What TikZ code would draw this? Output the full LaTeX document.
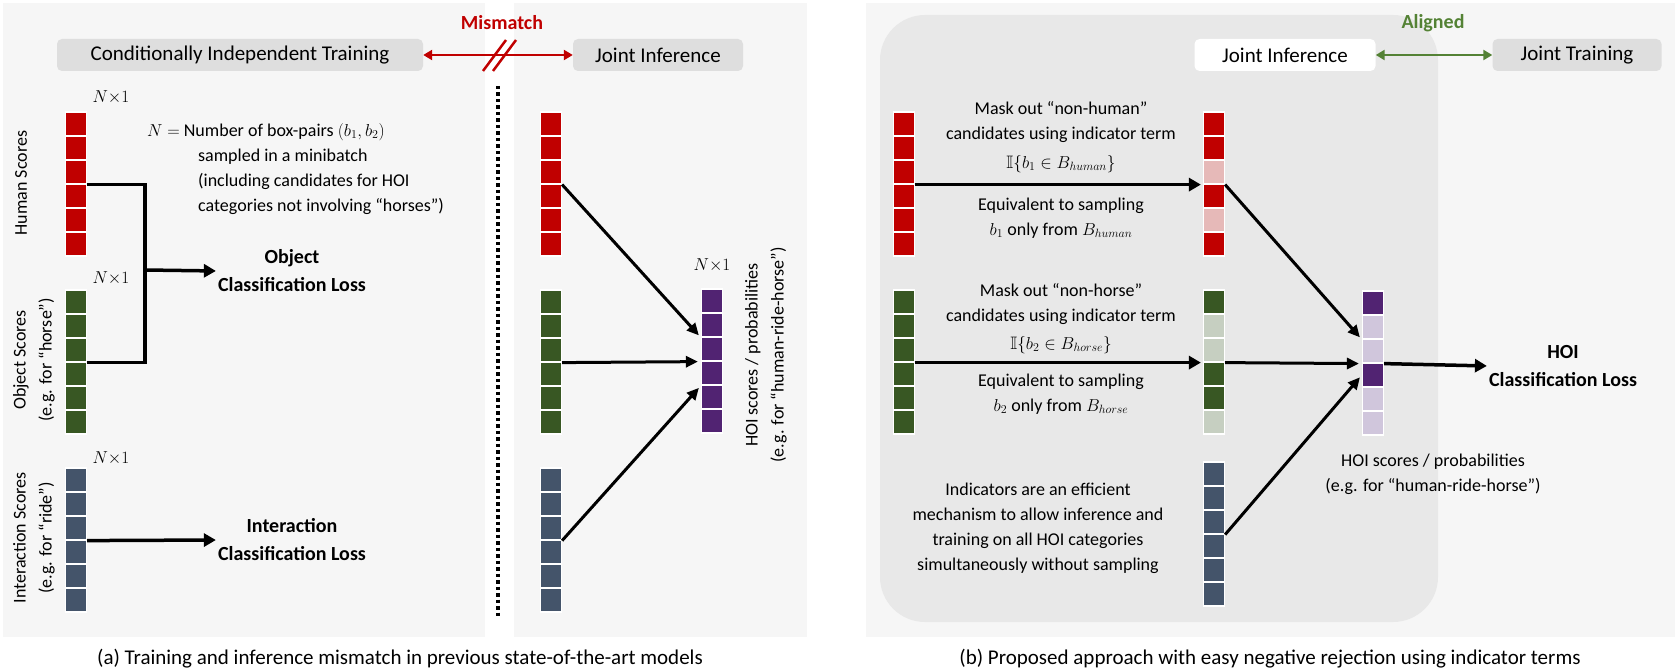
\documentclass[tikz,border=0pt]{standalone}
\usepackage{fontspec}
\usepackage{amssymb}
\setmainfont{Carlito}
\usetikzlibrary{arrows.meta}
\definecolor{cred}{HTML}{C00000}
\definecolor{cpink}{HTML}{E6B9B8}
\definecolor{cgreen}{HTML}{385723}
\definecolor{clgreen}{HTML}{C6CFC1}
\definecolor{cblue}{HTML}{44546A}
\definecolor{cpurple}{HTML}{512372}
\definecolor{clpurple}{HTML}{D0C6DC}
\definecolor{bgA}{HTML}{F6F6F6}
\definecolor{bgB}{HTML}{E8E8E8}
\definecolor{boxg}{HTML}{DEDEDE}
\definecolor{algreen}{HTML}{548235}
\newcommand\sbar[4]{\foreach \c [count=\i] in {#4} {\node[cell,fill=\c] (#1\i) at (#2+10,#3+12+24*\i-24) {};}}
\begin{document}
\begin{tikzpicture}[x=1pt,y=-1pt,
  cell/.style={draw=white,line width=1.2pt,minimum width=21pt,minimum height=24pt,inner sep=0pt},
  hdr/.style={rounded corners=5pt,fill=boxg,minimum height=32pt,inner sep=0pt,font=\fontsize{21}{23}\selectfont},
  txt/.style={font=\fontsize{18}{25}\selectfont,align=center,inner sep=0pt},
  btxt/.style={font=\fontsize{20}{28}\selectfont\bfseries,align=center,inner sep=0pt},
  vtxt/.style={font=\fontsize{18}{26}\selectfont,align=center,rotate=90,inner sep=0pt},
  arr/.style={line width=3.5pt,shorten >=2pt,-{Triangle[length=12pt,width=13pt]}},
  ln/.style={line width=3pt,shorten >=3pt,-{Triangle[length=12pt,width=11pt]}}]
\useasboundingbox (0,0) rectangle (1679,671);
\fill[white] (0,0) rectangle (1679,671);
% backgrounds
\fill[bgA] (3,3) rectangle (485,637);
\fill[bgA] (514,3) rectangle (807,637);
\fill[bgA] (866,3) rectangle (1675,637);
\fill[bgB,rounded corners=45pt] (880,15) rectangle (1438,622);
\draw[line width=3.5pt,dash pattern=on 3.5pt off 3pt] (498,86) -- (498,617);
% headers
\node[hdr,minimum width=366pt] (cit) at (240,55) {Conditionally Independent Training};
\node[hdr,minimum width=170pt] (ji1) at (658,55) {Joint Inference};
\node[hdr,fill=white,minimum width=181pt] (ji2) at (1285,55) {Joint Inference};
\node[hdr,minimum width=169pt] (jt) at (1577,55) {Joint Training};
\draw[cred,line width=2.5pt,{Triangle[length=9pt,width=10pt]}-{Triangle[length=9pt,width=10pt]}] (cit.east) -- (ji1.west);
\draw[cred,line width=2.5pt] (483,71) -- (506,40) (493,71) -- (516,40);
\node[txt,text=cred,font=\fontsize{20}{22}\selectfont\bfseries] (mm) at (502,23) {Mismatch};
\draw[algreen,line width=2.5pt,{Triangle[length=9pt,width=10pt]}-{Triangle[length=9pt,width=10pt]}] (ji2.east) -- (jt.west);
\node[txt,text=algreen,font=\fontsize{20}{22}\selectfont\bfseries] (al) at (1433,23) {Aligned};
% panel a left
\sbar{hA}{66}{112}{cred,cred,cred,cred,cred,cred}
\sbar{oA}{66}{290}{cgreen,cgreen,cgreen,cgreen,cgreen,cgreen}
\sbar{iA}{66}{468}{cblue,cblue,cblue,cblue,cblue,cblue}
\node[txt] (n1) at (111,97) {$N{\times}1$};
\node[txt] (n2) at (111,278) {$N{\times}1$};
\node[txt] (n3) at (111,458) {$N{\times}1$};
\node[vtxt] (hs) at (21,183) {Human Scores};
\node[vtxt] (os) at (34,360) {Object Scores\\(e.g. for ``horse'')};
\node[vtxt] (is) at (34,538) {Interaction Scores\\(e.g. for ``ride'')};
\node[txt,anchor=west] (note1) at (147,132) {$N=$ Number of box-pairs $(b_1,b_2)$};
\node[txt,anchor=west] (note2) at (198,157) {sampled in a minibatch};
\node[txt,anchor=west] (note3) at (198,181) {(including candidates for HOI};
\node[txt,anchor=west] (note4) at (198,206) {categories not involving ``horses'')};
\node[btxt] (ocl) at (292,271) {Object\\Classification Loss};
\node[btxt] (icl) at (292,540) {Interaction\\Classification Loss};
\coordinate (j1) at (145,270);
\draw[line width=3.5pt] (hA3.south east) -| (j1) |- (oA3.south east);
\draw[arr] (j1) -- (ocl.west);
\draw[arr] (iA3.south east) -- (icl.west);
% panel a middle
\sbar{hM}{541}{112}{cred,cred,cred,cred,cred,cred}
\sbar{oM}{541}{290}{cgreen,cgreen,cgreen,cgreen,cgreen,cgreen}
\sbar{iM}{541}{468}{cblue,cblue,cblue,cblue,cblue,cblue}
\sbar{pM}{702}{289}{cpurple,cpurple,cpurple,cpurple,cpurple,cpurple}
\node[txt] (n4) at (712,265) {$N{\times}1$};
\node[vtxt] (hoiA) at (766,355) {HOI scores / probabilities\\(e.g. for ``human-ride-horse'')};
\draw[ln] (hM3.south east) -- (pM2.south west);
\draw[ln] (oM3.south east) -- (pM3.south west);
\draw[ln] (iM3.south east) -- (pM4.south west);
% panel b
\sbar{hB}{894}{112}{cred,cred,cred,cred,cred,cred}
\sbar{oB}{894}{290}{cgreen,cgreen,cgreen,cgreen,cgreen,cgreen}
\sbar{hK}{1204}{112}{cred,cred,cpink,cred,cpink,cred}
\sbar{oK}{1204}{290}{cgreen,clgreen,clgreen,cgreen,cgreen,clgreen}
\sbar{iK}{1204}{462}{cblue,cblue,cblue,cblue,cblue,cblue}
\sbar{pK}{1363}{291}{cpurple,clpurple,clpurple,cpurple,clpurple,clpurple}
\node[txt] (t1) at (1061,122) {Mask out ``non-human''\\candidates using indicator term};
\node[txt] (t2) at (1061,164) {$\mathbb{I}\{b_1\in B_{human}\}$};
\node[txt] (t3) at (1061,218) {Equivalent to sampling\\$b_1$ only from $B_{human}$};
\node[txt] (t4) at (1061,304) {Mask out ``non-horse''\\candidates using indicator term};
\node[txt] (t5) at (1061,345) {$\mathbb{I}\{b_2\in B_{horse}\}$};
\node[txt] (t6) at (1061,394) {Equivalent to sampling\\$b_2$ only from $B_{horse}$};
\node[txt] (t7) at (1038,528) {Indicators are an efficient\\mechanism to allow inference and\\training on all HOI categories\\simultaneously without sampling};
\draw[arr] (hB3.south east) -- (hK3.south west);
\draw[arr] (oB3.south east) -- (oK3.south west);
\draw[ln] (hK3.south east) -- (pK2.south west);
\draw[ln] (oK3.south east) -- (pK3.south west);
\draw[ln] (iK3.south east) -- (pK4.west);
\node[btxt] (hcl) at (1563,366) {HOI\\Classification Loss};
\draw[arr] (pK3.south east) -- (hcl.west);
\node[txt] (hoiB) at (1433,474) {HOI scores / probabilities\\(e.g. for ``human-ride-horse'')};
% captions
\node[txt,font=\fontsize{21}{23}\selectfont] (ca) at (400,659) {(a) Training and inference mismatch in previous state-of-the-art models};
\node[txt,font=\fontsize{21}{23}\selectfont] (cb) at (1270,659) {(b) Proposed approach with easy negative rejection using indicator terms};
\end{tikzpicture}
\end{document}
